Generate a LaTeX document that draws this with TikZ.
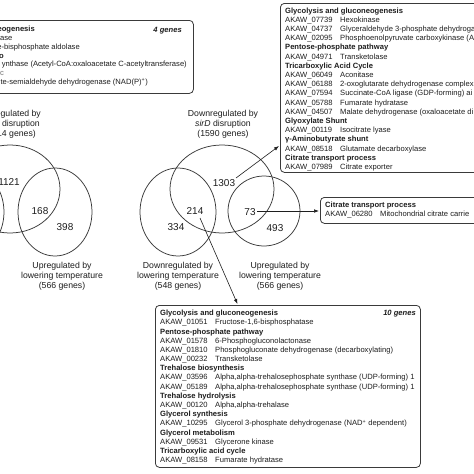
\documentclass[tikz,border=0pt]{standalone}
\usepackage{fontspec}
\setmainfont{Liberation Sans}
\usetikzlibrary{arrows.meta}
\definecolor{ink}{HTML}{1E1E1E}
\definecolor{edge}{HTML}{3A3A3A}
\newcommand\gid[2]{\makebox[55pt][l]{#1}#2}
\begin{document}
\begin{tikzpicture}[x=1pt,y=-1pt,
  vline/.style={draw=edge, line width=0.75pt},
  genebox/.style={draw=edge, line width=0.8pt, rounded corners=4pt, inner sep=0pt, anchor=north west},
  rowtxt/.style={anchor=mid west, inner sep=0pt, text=ink, font=\fontsize{7.6}{9}\selectfont},
  rowhd/.style={rowtxt, font=\fontsize{7.6}{9}\selectfont\bfseries},
  cutrow/.style={rowtxt, anchor=mid east},
  cuthd/.style={rowhd, anchor=mid east},
  countlbl/.style={anchor=mid east, inner sep=0pt, text=ink, font=\fontsize{7.6}{9}\selectfont\bfseries\itshape},
  num/.style={inner sep=0pt, text=ink, font=\fontsize{10}{12}\selectfont},
  setlbl/.style={inner sep=0pt, text=ink, align=center, font=\fontsize{8.7}{10}\selectfont},
  setcut/.style={inner sep=0pt, text=ink, anchor=mid east, font=\fontsize{8.7}{10}\selectfont},
  arr/.style={draw=ink, line width=0.6pt, -{Latex[length=5pt,width=3.6pt]}}
]
\useasboundingbox (0,0) rectangle (474,474);
\fill[white] (0,0) rectangle (474,474);
\clip (0,0) rectangle (474,474);

% ---------- top-left box (cut at left) ----------
\node[genebox, minimum width=253pt, minimum height=73pt] (tlbox) at (-60,20) {};
\node[cuthd] (tl0) at (35,29) {eogenesis};
\node[countlbl] (tlc) at (182,30) {4 genes};
\node[cutrow] (tl1) at (12.5,38) {ase};
\node[cutrow] (tl2) at (80,47) {e-bisphosphate aldolase};
\node[cuthd] (tl3) at (4,55.5) {o};
\node[cutrow] (tl4) at (187,64) {ynthase (Acetyl-CoA:oxaloacetate C-acetyltransferase)};
\node[cutrow, text=ink!60] (tl5) at (4,73) {c};
\node[cutrow] (tl6) at (148,82) {te-semialdehyde dehydrogenase (NAD(P)\textsuperscript{+})};

% ---------- Venn 1 (cut at left) ----------
\draw[vline] (10,189) ellipse [x radius=50pt, y radius=44pt];
\draw[vline] (55,212) ellipse [x radius=37pt, y radius=44pt];
\draw[vline] (-33,212) ellipse [x radius=37pt, y radius=44pt];
\node[num, anchor=mid east] (v1a) at (20,183) {1121};
\node[num] (v1b) at (40,211) {168};
\node[num] (v1c) at (65,227) {398};
\node[setcut] (v1t1) at (41,114) {egulated by};
\node[setcut] (v1t2) at (40,124) {\textit{D} disruption};
\node[setcut] (v1t3) at (36,134) {14 genes)};
\node[setlbl] (v1r) at (62,276) {Upregulated by\\lowering temperature\\(566 genes)};

% ---------- Venn 2 ----------
\draw[vline] (222,189) ellipse [x radius=52pt, y radius=44pt];
\draw[vline] (178,212) ellipse [x radius=38pt, y radius=44pt];
\draw[vline] (264,211) ellipse [x radius=36pt, y radius=35pt];
\node[setlbl] (v2t) at (223,124) {Downregulated by\\\textit{sirD} disruption\\(1590 genes)};
\node[setlbl] (v2l) at (178,276) {Downregulated by\\lowering temperature\\(548 genes)};
\node[setlbl] (v2r) at (280,276) {Upregulated by\\lowering temperature\\(566 genes)};
\node[num] (n1303) at (224,183) {1303};
\node[num] (n214) at (195,211) {214};
\node[num] (n334) at (176,227) {334};
\node[num] (n73) at (250,212) {73};
\node[num] (n493) at (275,228) {493};

% ---------- top-right box ----------
\node[genebox, minimum width=260pt, minimum height=169pt] (trbox) at (280,3) {};
\node[rowhd]  (tr0)  at (285,10.5)  {Glycolysis and gluconeogenesis};
\node[rowtxt] (tr1)  at (285,19.7)  {\gid{AKAW\_07739}{Hexokinase}};
\node[rowtxt] (tr2)  at (285,28.9)  {\gid{AKAW\_04737}{Glyceraldehyde 3-phosphate dehydroga}};
\node[rowtxt] (tr3)  at (285,38.1)  {\gid{AKAW\_02095}{Phosphoenolpyruvate carboxykinase (A}};
\node[rowhd]  (tr4)  at (285,47.3)  {Pentose-phosphate pathway};
\node[rowtxt] (tr5)  at (285,56.5)  {\gid{AKAW\_04971}{Transketolase}};
\node[rowhd]  (tr6)  at (285,65.7)  {Tricarboxylic Acid Cycle};
\node[rowtxt] (tr7)  at (285,74.9)  {\gid{AKAW\_06049}{Aconitase}};
\node[rowtxt] (tr8)  at (285,84.1)  {\gid{AKAW\_06188}{2-oxoglutarate dehydrogenase complex}};
\node[rowtxt] (tr9)  at (285,93.3)  {\gid{AKAW\_07594}{Succinate-CoA ligase (GDP-forming) ai}};
\node[rowtxt] (tr10) at (285,102.5) {\gid{AKAW\_05788}{Fumarate hydratase}};
\node[rowtxt] (tr11) at (285,111.7) {\gid{AKAW\_04507}{Malate dehydrogenase (oxaloacetate di}};
\node[rowhd]  (tr12) at (285,120.9) {Glyoxylate Shunt};
\node[rowtxt] (tr13) at (285,130.1) {\gid{AKAW\_00119}{Isocitrate lyase}};
\node[rowhd]  (tr14) at (285,139.3) {γ-Aminobutyrate shunt};
\node[rowtxt] (tr15) at (285,148.5) {\gid{AKAW\_08518}{Glutamate decarboxylase}};
\node[rowhd]  (tr16) at (285,157.7) {Citrate transport process};
\node[rowtxt] (tr17) at (285,166.9) {\gid{AKAW\_07989}{Citrate exporter}};

% ---------- citrate carrier box ----------
\node[genebox, minimum width=220pt, minimum height=26pt] (ccbox) at (320,197) {};
\node[rowhd]  (cc0) at (325,205) {Citrate transport process};
\node[rowtxt] (cc1) at (325,214.2) {\gid{AKAW\_06280}{Mitochondrial citrate carrie}};

% ---------- bottom box ----------
\node[genebox, minimum width=265pt, minimum height=162pt] (bbox) at (155,305) {};
\node[rowhd]  (b0)  at (160,313)   {Glycolysis and gluconeogenesis};
\node[countlbl] (bc) at (416,313)  {10 genes};
\node[rowtxt] (b1)  at (160,322.2) {\gid{AKAW\_01051}{Fructose-1,6-bisphosphatase}};
\node[rowhd]  (b2)  at (160,331.4) {Pentose-phosphate pathway};
\node[rowtxt] (b3)  at (160,340.6) {\gid{AKAW\_01578}{6-Phosphogluconolactonase}};
\node[rowtxt] (b4)  at (160,349.8) {\gid{AKAW\_01810}{Phosphogluconate dehydrogenase (decarboxylating)}};
\node[rowtxt] (b5)  at (160,359.0) {\gid{AKAW\_00232}{Transketolase}};
\node[rowhd]  (b6)  at (160,368.1) {Trehalose biosynthesis};
\node[rowtxt] (b7)  at (160,377.3) {\gid{AKAW\_03596}{Alpha,alpha-trehalosephosphate synthase (UDP-forming) 1}};
\node[rowtxt] (b8)  at (160,386.5) {\gid{AKAW\_05189}{Alpha,alpha-trehalosephosphate synthase (UDP-forming) 1}};
\node[rowhd]  (b9)  at (160,395.7) {Trehalose hydrolysis};
\node[rowtxt] (b10) at (160,404.9) {\gid{AKAW\_00120}{Alpha,alpha-trehalase}};
\node[rowhd]  (b11) at (160,414.1) {Glycerol synthesis};
\node[rowtxt] (b12) at (160,423.3) {\gid{AKAW\_10295}{Glycerol 3-phosphate dehydrogenase (NAD\textsuperscript{+} dependent)}};
\node[rowhd]  (b13) at (160,432.5) {Glycerol metabolism};
\node[rowtxt] (b14) at (160,441.7) {\gid{AKAW\_09531}{Glycerone kinase}};
\node[rowhd]  (b15) at (160,450.9) {Tricarboxylic acid cycle};
\node[rowtxt] (b16) at (160,460.0) {\gid{AKAW\_08158}{Fumarate hydratase}};

% ---------- connectors ----------
\coordinate (a1s) at (236,178);
\coordinate (a1e) at (279,146);
\coordinate (a2s) at (257,211);
\coordinate (a2e) at (319,211);
\coordinate (a3s) at (200,218);
\coordinate (a3e) at (237.5,304);
\draw[arr] (a1s) -- (a1e);
\draw[arr] (a2s) -- (a2e);
\draw[arr] (a3s) -- (a3e);
\end{tikzpicture}
\end{document}
